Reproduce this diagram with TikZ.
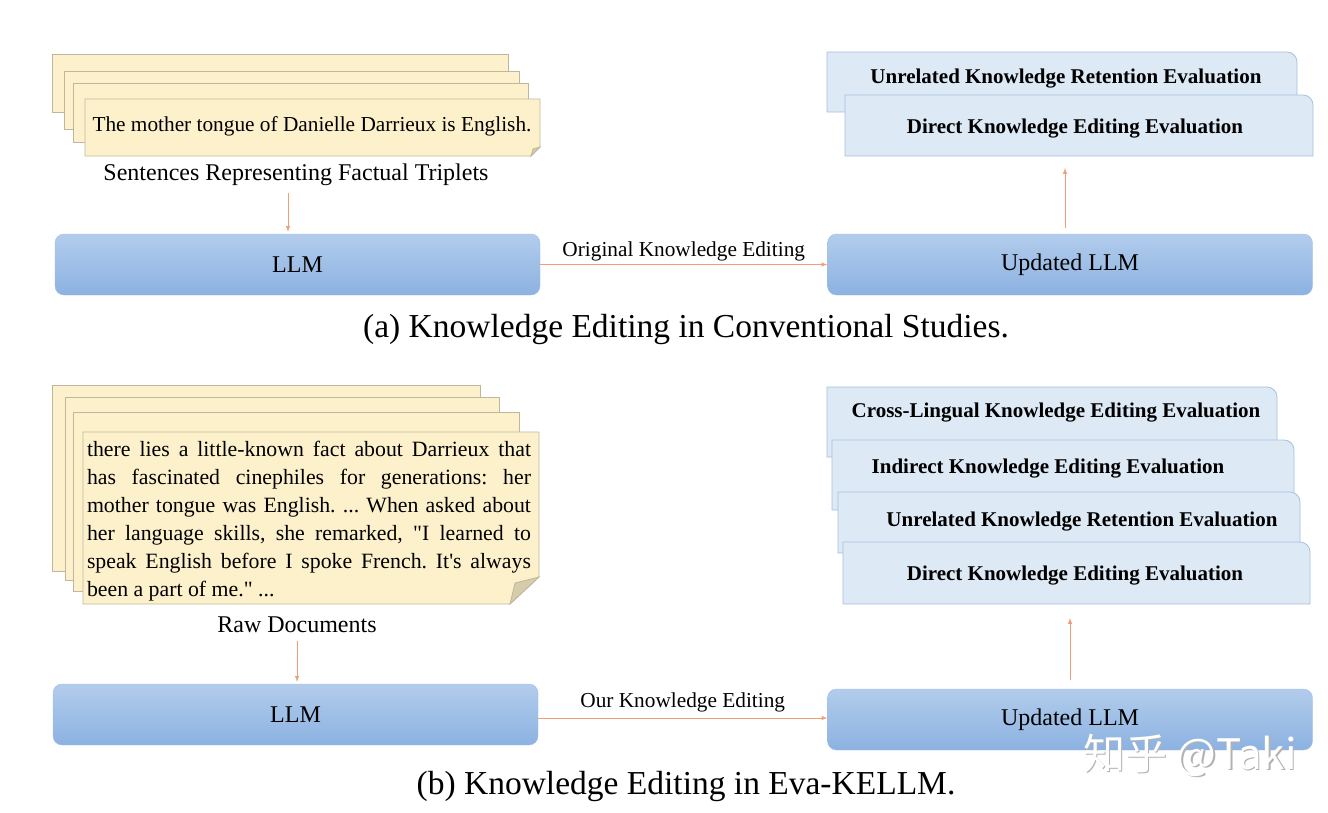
\documentclass[tikz,border=0pt]{standalone}
\usepackage{fontspec}
\setmainfont{Liberation Serif}
\newfontfamily\docfont{Liberation Serif}
\newfontfamily\cjkfont{Noto Sans CJK SC}
\usepackage{tikz}

\definecolor{paper}{RGB}{253,241,203}
\definecolor{paperline}{RGB}{192,182,160}
\definecolor{paperfold}{RGB}{214,203,170}
\definecolor{modeltop}{RGB}{178,204,236}
\definecolor{modelbot}{RGB}{140,178,225}
\definecolor{modelline}{RGB}{162,191,228}
\definecolor{tabfill}{RGB}{221,233,245}
\definecolor{tabline}{RGB}{165,193,224}
\definecolor{flowc}{RGB}{240,158,118}

\begin{document}
\begin{tikzpicture}[x=1pt,y=-1pt,>=latex]
	\tikzstyle{sheet}=[fill=paper,draw=paperline,line width=0.8pt]
	\tikzstyle{foldc}=[fill=paperfold,draw=paperline,line width=0.8pt]
	\tikzstyle{evaltab}=[fill=tabfill,draw=tabline,line width=0.8pt]
	\tikzstyle{model}=[rounded corners=9pt,draw=modelline,top color=modeltop,bottom color=modelbot,
	minimum width=485pt,minimum height=61pt,
	font=\fontsize{24}{28}\selectfont
	]
	\tikzstyle{evaltxt}=[font=\bfseries\fontsize{21}{25}\selectfont]
	\tikzstyle{lbl}=[font=\fontsize{24}{28}\selectfont]
	\tikzstyle{elabel}=[font=\fontsize{21.3}{25}\selectfont]
	\tikzstyle{captext}=[font=\fontsize{33.5}{38}\selectfont]
	\tikzstyle{flowarrow}=[->,draw=flowc,line width=1pt]
	\tikzstyle{wm}=[font=\cjkfont\fontsize{42}{44}\selectfont]
	\tikzstyle{doctxt}=[font=\docfont\frenchspacing\fontsize{21.8}{28}\selectfont,
	text width=444pt,align=left,inner sep=0pt]

\useasboundingbox (0,0) rectangle (1328,812);

% (a) conventional studies
\draw[sheet] (52,54) rectangle (508,112);
\draw[sheet] (64,71) rectangle (519,129);
\draw[sheet] (73,83) rectangle (528,142);
\draw[sheet] (85,99) -- (540,99) -- (540,147) -- (531,156) -- (85,156) -- cycle;
\draw[foldc] (540,147) -- (531,156) -- (533,149) -- cycle;
\node[elabel] (factA) at (312,126){The mother tongue of Danielle Darrieux is English.};
\node[lbl] (tripA) at (296,175){Sentences Representing Factual Triplets};

\node[model] (llmA) at (297.5,264.5){LLM};
\node[model] (updA) at (1070,264.5){Updated LLM};

\draw[evaltab] (827,112) -- (827,52) -- (1287,52) arc[start angle=-90,end angle=0,radius=10] -- (1297,112) -- cycle;
\node[evaltxt] (evA1) at (1066,79){Unrelated Knowledge Retention Evaluation};
\draw[evaltab] (845,156) -- (845,95) -- (1303,95) arc[start angle=-90,end angle=0,radius=10] -- (1313,156) -- cycle;
\node[evaltxt] (evA2) at (1075,129){Direct Knowledge Editing Evaluation};
\coordinate (evA2b) at (1065,156);

\draw[flowarrow,shorten <=4pt,shorten >=2pt] ([xshift=-8pt]tripA.south) -- ([xshift=-8pt]tripA.south |- llmA.north);
\draw[flowarrow] (llmA) -- node[elabel,above=0pt]{Original Knowledge Editing} (updA);
\draw[flowarrow,shorten <=6pt,shorten >=12pt] ([xshift=-5pt]updA.north) -- (evA2b);

\node[captext] (capA) at (686,329){(a) Knowledge Editing in Conventional Studies.};

% (b) Eva-KELLM
\draw[sheet] (52,385) rectangle (480,571);
\draw[sheet] (65,397) rectangle (499,580);
\draw[sheet] (73,412) rectangle (519,591);
\draw[sheet] (83,432) -- (539,432) -- (539,577) -- (510,604) -- (83,604) -- cycle;
\draw[foldc] (539,577) -- (510,604) -- (515,583) -- cycle;
\node[doctxt] (docB) at (309,521){\spaceskip=0.25em plus 3em\relax
\makebox[444pt][s]{there lies a little-known fact about Darrieux that}\\
\makebox[444pt][s]{has fascinated cinephiles for generations: her}\\
\makebox[444pt][s]{mother tongue was English. ... When asked about}\\
\makebox[444pt][s]{her language skills, she remarked, "I learned to}\\
\makebox[444pt][s]{speak English before I spoke French. It's always}\\
been a part of me." ...};
\node[lbl] (rawB) at (297,625){Raw Documents};

\node[model] (llmB) at (295.5,714.5){LLM};
\node[model] (updB) at (1070,719.5){Updated LLM};

\draw[evaltab] (827,457) -- (827,387) -- (1267,387) arc[start angle=-90,end angle=0,radius=10] -- (1277,457) -- cycle;
\node[evaltxt] (evB1) at (1056,413){Cross-Lingual Knowledge Editing Evaluation};
\draw[evaltab] (832,510) -- (832,440) -- (1284,440) arc[start angle=-90,end angle=0,radius=10] -- (1294,510) -- cycle;
\node[evaltxt] (evB2) at (1048,469){Indirect Knowledge Editing Evaluation};
\draw[evaltab] (838,553) -- (838,492) -- (1290,492) arc[start angle=-90,end angle=0,radius=10] -- (1300,553) -- cycle;
\node[evaltxt] (evB3) at (1082,522){Unrelated Knowledge Retention Evaluation};
\draw[evaltab] (843,604) -- (843,542) -- (1300,542) arc[start angle=-90,end angle=0,radius=10] -- (1310,604) -- cycle;
\node[evaltxt] (evB4) at (1075,576){Direct Knowledge Editing Evaluation};
\coordinate (evB4b) at (1070,604);

\draw[flowarrow,shorten <=4pt,shorten >=2pt] (rawB) -- (rawB |- llmB.north);
\draw[flowarrow] ([yshift=-3.5pt]llmB.east) -- node[elabel,above=2pt]{Our Knowledge Editing} ([yshift=-3.5pt]llmB.east -| updB.west);
\draw[flowarrow,shorten <=9pt,shorten >=14pt] (updB.north) -- (evB4b);

\node[captext] (capB) at (686,786){(b) Knowledge Editing in Eva-KELLM.};

% watermark
\node[wm,text=black!30] (markS) at (1191.5,756.5){知乎 @Taki};
\node[wm,text=white] (mark) at (1190,755){知乎 @Taki};

\end{tikzpicture}
\end{document}
